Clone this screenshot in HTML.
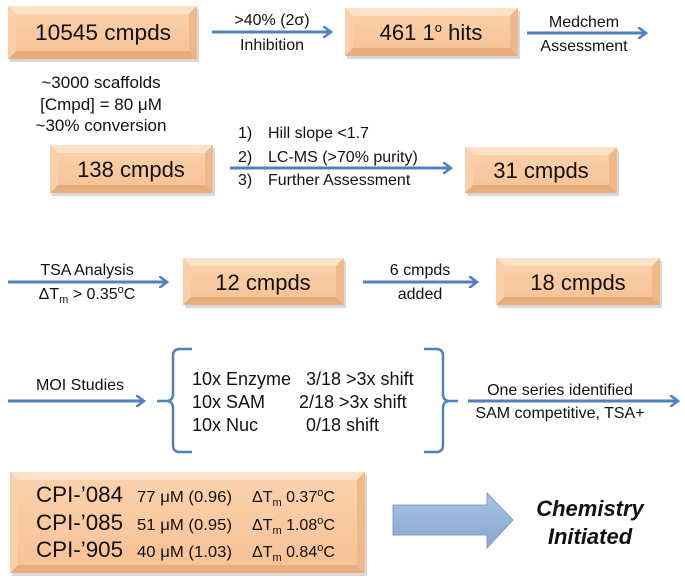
<!DOCTYPE html>
<html><head><meta charset="utf-8"><style>
html,body{margin:0;padding:0;background:#fff;}
svg{display:block;font-family:"Liberation Sans",Arial,sans-serif;}
</style></head><body>
<svg width="685" height="584" viewBox="0 0 685 584">
<defs>
<linearGradient id="bx" x1="0" y1="0" x2="0" y2="1"><stop offset="0" stop-color="#fbd3ad"/><stop offset="1" stop-color="#f6c095"/></linearGradient>
<linearGradient id="ba" x1="0" y1="0" x2="0" y2="1"><stop offset="0" stop-color="#a9c3e2"/><stop offset="1" stop-color="#86a6cf"/></linearGradient>
<marker id="ah" markerWidth="10" markerHeight="12" refX="7" refY="6" orient="auto" markerUnits="userSpaceOnUse"><path d="M0,0 L8,6 L0,12" fill="none" stroke="#4f81bd" stroke-width="2.5"/></marker>
</defs>
<g id="boxes"></g>
<g stroke="#4f81bd" stroke-width="3" fill="none">
<line x1="212" y1="32" x2="330" y2="32" marker-end="url(#ah)"/>
<line x1="527" y1="33" x2="645" y2="33" marker-end="url(#ah)"/>
<line x1="230" y1="168" x2="450" y2="168" marker-end="url(#ah)"/>
<line x1="8" y1="282" x2="166" y2="282" marker-end="url(#ah)"/>
<line x1="363" y1="282" x2="476" y2="282" marker-end="url(#ah)"/>
<line x1="8" y1="401" x2="143" y2="401" marker-end="url(#ah)"/>
<line x1="468" y1="401" x2="677" y2="401" marker-end="url(#ah)"/>
</g>
<g stroke="#4f81bd" stroke-width="2.5" fill="none">
<path d="M192,349 L180,349 Q173,349 173,356 L173,394 Q173,401 166,401 L157,401 M166,401 Q173,401 173,408 L173,445 Q173,452 180,452 L192,452"/>
<path d="M424,349 L436,349 Q443,349 443,356 L443,394 Q443,401 450,401 L458,401 M450,401 Q443,401 443,408 L443,445 Q443,452 436,452 L424,452"/>
</g>
<path d="M393,505 L487,505 L487,493 L513,520 L487,548 L487,535 L393,535 Z" fill="url(#ba)" stroke="#7f9cc6" stroke-width="1"/>
<g fill="#111" font-size="22">
<text x="103" y="40" text-anchor="middle" textLength="136" lengthAdjust="spacingAndGlyphs">10545 cmpds</text>
<text x="431" y="40" text-anchor="middle">461 1<tspan font-size="13" dy="-8">o</tspan><tspan dy="8"> hits</tspan></text>
<text x="131" y="177" text-anchor="middle">138 cmpds</text>
<text x="541" y="178" text-anchor="middle">31 cmpds</text>
<text x="263" y="290" text-anchor="middle">12 cmpds</text>
<text x="578" y="290" text-anchor="middle">18 cmpds</text>
</g>
<g fill="#111" font-size="16" text-anchor="middle">
<text x="272" y="25">&gt;40% (2σ)</text>
<text x="272" y="50">Inhibition</text>
<text x="584" y="27">Medchem</text>
<text x="584" y="51">Assessment</text>
<text x="101" y="88" font-size="17">~3000 scaffolds</text>
<text x="101" y="110" font-size="17">[Cmpd] = 80 μM</text>
<text x="101" y="131" font-size="17">~30% conversion</text>
<text x="87" y="275">TSA Analysis</text>
<text x="87" y="299">ΔT<tspan font-size="11" dy="4">m</tspan><tspan dy="-4"> &gt; 0.35</tspan><tspan font-size="11" dy="-6">o</tspan><tspan dy="6">C</tspan></text>
<text x="420" y="275">6 cmpds</text>
<text x="420" y="299">added</text>
<text x="80" y="390">MOI Studies</text>
<text x="560" y="395">One series identified</text>
<text x="560" y="418">SAM competitive, TSA+</text>
</g>
<g fill="#111" font-size="16">
<text x="238" y="138">1)<tspan x="268">Hill slope &lt;1.7</tspan></text>
<text x="238" y="162">2)<tspan x="268">LC-MS (&gt;70% purity)</tspan></text>
<text x="238" y="185">3)<tspan x="268">Further Assessment</tspan></text>
</g>
<g fill="#111" font-size="18">
<text x="192" y="385">10x Enzyme<tspan x="306">3/18 &gt;3x shift</tspan></text>
<text x="192" y="408">10x SAM<tspan x="299">2/18 &gt;3x shift</tspan></text>
<text x="192" y="431">10x Nuc<tspan x="306">0/18 shift</tspan></text>
</g>
<g fill="#111">
<g>
<text x="36" y="502" font-size="22" textLength="87" lengthAdjust="spacingAndGlyphs">CPI-’084</text>
<text x="137" y="502" font-size="16" textLength="95" lengthAdjust="spacingAndGlyphs">77 μM (0.96)</text>
<text x="252" y="502" font-size="16">ΔT<tspan font-size="11" dy="4">m</tspan><tspan dy="-4"> 0.37</tspan><tspan font-size="11" dy="-6">o</tspan><tspan dy="6">C</tspan></text>
</g>
<g>
<text x="36" y="530" font-size="22" textLength="87" lengthAdjust="spacingAndGlyphs">CPI-’085</text>
<text x="137" y="530" font-size="16" textLength="95" lengthAdjust="spacingAndGlyphs">51 μM (0.95)</text>
<text x="252" y="530" font-size="16">ΔT<tspan font-size="11" dy="4">m</tspan><tspan dy="-4"> 1.08</tspan><tspan font-size="11" dy="-6">o</tspan><tspan dy="6">C</tspan></text>
</g>
<g>
<text x="36" y="557" font-size="22" textLength="87" lengthAdjust="spacingAndGlyphs">CPI-’905</text>
<text x="137" y="557" font-size="16" textLength="95" lengthAdjust="spacingAndGlyphs">40 μM (1.03)</text>
<text x="252" y="557" font-size="16">ΔT<tspan font-size="11" dy="4">m</tspan><tspan dy="-4"> 0.84</tspan><tspan font-size="11" dy="-6">o</tspan><tspan dy="6">C</tspan></text>
</g>
<text x="590" y="516" font-size="22" font-weight="bold" font-style="italic" text-anchor="middle">Chemistry</text>
<text x="590" y="544" font-size="22" font-weight="bold" font-style="italic" text-anchor="middle">Initiated</text>
</g>
</svg>
<script>
var boxNames=['box-10545','box-461','box-138','box-31','box-12','box-18','box-cpi-results'];
var boxX=[8,345,50,465,183,496,10];
var boxY=[6,8,145,147,258,258,472];
var boxW=[189,173,163,152,161,164,355];
var boxH=[53,48,48,46,47,47,101];
var NS='http://www.w3.org/2000/svg';
var g=document.getElementById('boxes');
for(var i=0;i<boxNames.length;i++){
  var x=boxX[i],y=boxY[i],w=boxW[i],h=boxH[i],b=8;
  var grp=document.createElementNS(NS,'g');
  
  
  var sh=document.createElementNS(NS,'rect');
  sh.setAttribute('x',x+2);sh.setAttribute('y',y+3);sh.setAttribute('width',w);sh.setAttribute('height',h);sh.setAttribute('fill','#d9d9d9');
  grp.appendChild(sh);
  var r=document.createElementNS(NS,'rect');
  r.setAttribute('x',x);r.setAttribute('y',y);r.setAttribute('width',w);r.setAttribute('height',h);r.setAttribute('fill','url(#bx)');
  grp.appendChild(r);
  var sides=[['#fde2c8',[x,y,x+w,y,x+w-b,y+b,x+b,y+b]],['#e8ad7c',[x,y+h,x+w,y+h,x+w-b,y+h-b,x+b,y+h-b]],['#f9d0a9',[x,y,x+b,y+b,x+b,y+h-b,x,y+h]],['#efb888',[x+w,y,x+w-b,y+b,x+w-b,y+h-b,x+w,y+h]]];
  for(var s=0;s<4;s++){
    var p=document.createElementNS(NS,'polygon');
    p.setAttribute('points',sides[s][1].join(' '));p.setAttribute('fill',sides[s][0]);
    grp.appendChild(p);
  }
  g.appendChild(grp);
}
</script>
</body></html>
